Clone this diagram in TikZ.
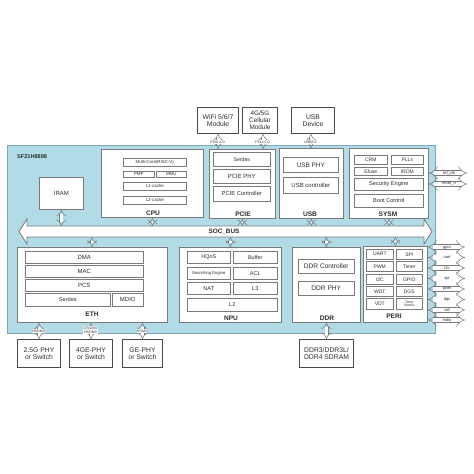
\documentclass[tikz,border=0pt]{standalone}
\usepackage{fontspec}
\setmainfont{Liberation Sans}
\usetikzlibrary{arrows.meta}
\definecolor{chipfill}{HTML}{B0DBE7}
\definecolor{chipdraw}{HTML}{7FA7B5}
\definecolor{boxdraw}{HTML}{7A7A7A}
\definecolor{extdraw}{HTML}{4A4A4A}
\definecolor{txt}{HTML}{2E2E2E}
\newcommand\fsz[2]{\fontsize{#1}{#2}\selectfont}
\newcommand\B[7][]{\node[#1, anchor=north west, minimum width={(#5-#3)*1pt}, minimum height={(#6-#4)*1pt}] (#2) at (#3,#4) {#7};}
\tikzset{
  chip/.style={draw=chipdraw, fill=chipfill, line width=1pt, inner sep=0},
  blk/.style={draw=boxdraw, fill=white, line width=0.8pt, inner sep=0, font=\fsz{6}{7}},
  ibx/.style={draw=boxdraw, fill=white, line width=0.6pt, inner sep=0, align=center, font=\fsz{5}{6}},
  ext/.style={draw=extdraw, fill=white, line width=1pt, inner sep=0, align=center, font=\fsz{6.8}{7.6}},
  lbl/.style={font=\bfseries\fsz{6.6}{7}, inner sep=0},
  conn/.style={draw=boxdraw, line width=0.5pt, double=white, double distance=3pt,
    {Implies[length=2.2pt, width=7pt]}-{Implies[length=2.2pt, width=7pt]}},
  sig/.style={draw=boxdraw, line width=0.5pt, double=white, double distance=4.4pt,
    {Implies[length=2.4pt, width=8pt]}-{Implies[length=2.4pt, width=8pt]}},
  clbl/.style={font=\fsz{3.6}{4}, fill=white, inner sep=0.3pt},
  slbl/.style={font=\fsz{4.2}{5}, inner sep=0}
}
\begin{document}
\begin{tikzpicture}[x=1pt,y=-1pt, text=txt]
\useasboundingbox (0,0) rectangle (474,474);
\fill[white] (0,0) rectangle (474,474);

% chip
\B[chip]{chip}{7}{145}{435}{333}{}
\node[font=\bfseries\fsz{5.6}{6}, inner sep=0, anchor=west] (chipname) at (17,157) {SF21H8898};

% external top
\B[ext]{wifi}{197}{107}{238}{133}{WiFi 5/6/7\\Module}
\B[ext, font=\fsz{6.4}{7}]{cell}{242}{107}{277}{133}{4G/5G\\Cellular\\Module}
\B[ext]{usbdev}{291}{107}{334}{133}{USB\\Device}

% IRAM
\B[blk]{iram}{39}{177}{83}{209}{IRAM}

% CPU
\B[blk]{cpu}{101}{149}{203}{217}{}
\B[ibx, font=\fsz{4.4}{5}]{mc}{123}{158}{186}{166}{Multi-Core(RISC-V)}
\B[ibx, font=\fsz{4.4}{5}]{pmp}{123}{171}{154}{177}{PMP}
\B[ibx, font=\fsz{4.4}{5}]{mmu}{156}{171}{186}{177}{MMU}
\B[ibx, font=\fsz{4.4}{5}]{lone}{123}{182}{186}{190}{L1-cache}
\B[ibx, font=\fsz{4.4}{5}]{ltwo}{123}{196}{186}{204}{L2-cache}
\node[lbl] (cpulbl) at (153,213) {CPU};

% PCIE
\B[blk]{pcie}{209}{149}{275}{218}{}
\B[ibx, font=\fsz{5.2}{6}]{serdesa}{213}{152}{270}{166}{Serdes}
\B[ibx, font=\fsz{6}{7}]{pciephy}{213}{169}{270}{183}{PCIE PHY}
\B[ibx, font=\fsz{5.8}{7}]{pciectl}{213}{186}{270}{201}{PCIE Controller}
\node[lbl] (pcielbl) at (243,214) {PCIE};

% USB
\B[blk]{usb}{279}{148}{343}{218}{}
\B[ibx, font=\fsz{6.4}{7}]{usbphy}{283}{157}{338}{172}{USB PHY}
\B[ibx, font=\fsz{6}{7}]{usbctl}{283}{177}{338}{193}{USB controller}
\node[lbl] (usblbl) at (310,214) {USB};

% SYSM
\B[blk]{sysm}{349}{148}{428}{218}{}
\B[ibx]{crm}{354}{155}{387}{164}{CRM}
\B[ibx]{plls}{391}{155}{423}{164}{PLLs}
\B[ibx]{efuse}{354}{167}{387}{175}{Efuse}
\B[ibx]{irom}{391}{167}{423}{175}{IROM}
\B[ibx, font=\fsz{5.6}{6}]{sec}{354}{178}{423}{190}{Security Engine}
\B[ibx, font=\fsz{5.6}{6}]{boot}{354}{194}{423}{207}{Boot Control}
\node[lbl] (sysmlbl) at (388,214) {SYSM};

% SOC bus
\draw[draw=boxdraw, fill=white, line width=0.8pt]
  (19,231.5) -- (27,219) -- (27,226) -- (424,226) -- (424,219) -- (432,231.5)
  -- (424,244) -- (424,237) -- (27,237) -- (27,244) -- cycle;
\coordinate (bustop) at (0,226);
\coordinate (busbot) at (0,237);
\node[lbl, font=\bfseries\fsz{6.4}{7}] (buslbl) at (224,232) {SOC\_BUS};

% ETH
\B[blk]{eth}{17}{247}{167}{322}{}
\B[ibx, font=\fsz{6}{7}]{dma}{25}{251}{143}{263}{DMA}
\B[ibx, font=\fsz{6}{7}]{mac}{25}{265}{143}{277}{MAC}
\B[ibx, font=\fsz{6}{7}]{pcs}{25}{279}{143}{291}{PCS}
\B[ibx, font=\fsz{5.6}{7}]{serdesb}{25}{293}{110}{306}{Serdes}
\B[ibx, font=\fsz{6}{7}]{mdio}{112}{293}{143}{306}{MDIO}
\node[lbl] (ethlbl) at (92,314) {ETH};

% NPU
\B[blk]{npu}{179}{247}{281}{322}{}
\B[ibx, font=\fsz{5.4}{6}]{hqos}{187}{251}{230}{263}{HQoS}
\B[ibx, font=\fsz{5.4}{6}]{buffer}{233}{251}{277}{263}{Buffer}
\B[ibx, font=\fsz{4.2}{5}]{search}{187}{267}{230}{279}{Searching Engine}
\B[ibx, font=\fsz{5.6}{6}]{acl}{233}{267}{277}{279}{ACL}
\B[ibx, font=\fsz{5.6}{6}]{nat}{187}{282}{230}{294}{NAT}
\B[ibx, font=\fsz{5.6}{6}]{lthree}{233}{282}{277}{294}{L3}
\B[ibx, font=\fsz{5.6}{6}]{ltwob}{187}{298}{277}{311}{L2}
\node[lbl] (npulbl) at (231,318) {NPU};

% DDR
\B[blk]{ddr}{292}{247}{360}{322}{}
\B[ibx, font=\fsz{6.6}{7}]{ddrc}{298}{259}{354}{273}{DDR Controller}
\B[ibx, font=\fsz{6.6}{7}]{ddrphy}{298}{281}{354}{295}{DDR PHY}
\node[lbl] (ddrlbl) at (327,318) {DDR};

% PERI
\B[blk]{peri}{363}{246}{427}{322}{}
\B[ibx]{uart}{366}{249}{393}{259}{UART}
\B[ibx]{spi}{396}{249}{422}{259}{SPI}
\B[ibx]{pwm}{366}{261}{393}{271}{PWM}
\B[ibx]{timer}{396}{261}{422}{271}{Timer}
\B[ibx]{itwoc}{366}{274}{393}{284}{I2C}
\B[ibx]{gpiob}{396}{274}{422}{284}{GPIO}
\B[ibx]{wdt}{366}{286}{393}{296}{WDT}
\B[ibx]{dgs}{396}{286}{422}{296}{DGS}
\B[ibx]{vdt}{366}{298}{393}{309}{VDT}
\B[ibx, font=\fsz{3.4}{3.8}]{temp}{396}{298}{422}{309}{Temp\\Sensor}
\node[lbl] (perilbl) at (394,316) {PERI};

% external bottom
\B[ext]{phyA}{17}{339}{60}{367}{2.5G PHY\\or Switch}
\B[ext]{phyB}{69}{339}{112}{367}{4GE-PHY\\or Switch}
\B[ext]{phyC}{122}{339}{162}{367}{GE-PHY\\or Switch}
\B[ext]{sdram}{299}{339}{353}{367}{DDR3/DDR3L/\\DDR4 SDRAM}

% connectors: top externals
\draw[conn] (wifi.south) -- (wifi.south |- pcie.north);
\draw[conn] ([xshift=3pt]cell.south) -- ([xshift=3pt]cell.south |- pcie.north);
\draw[conn] ([xshift=-2pt]usbdev.south) -- ([xshift=-2pt]usbdev.south |- usb.north);
\node[clbl] (lwifi) at (217.5,142) {PCIe 2.0};
\node[clbl] (lcell) at (262.5,142) {PCIe 2.0};
\node[clbl] (lusb) at (310.5,142) {USB2.0};

% connectors to bus
\draw[conn] (iram.south) -- (iram.south |- bustop);
\draw[conn] (cpu.south) -- (cpu.south |- bustop);
\draw[conn] (pcie.south) -- (pcie.south |- bustop);
\draw[conn] (usb.south) -- (usb.south |- bustop);
\draw[conn] (sysm.south) -- (sysm.south |- bustop);
\draw[conn] (eth.north -| ethlbl) -- (ethlbl |- busbot);
\draw[conn] (npu.north) -- (npu.north |- busbot);
\draw[conn] (ddr.north) -- (ddr.north |- busbot);
\draw[conn] (peri.north) -- (peri.north |- busbot);

% connectors bottom
\draw[conn] (eth.south -| phyA.north) -- (phyA.north);
\draw[conn] (eth.south -| phyB.north) -- (phyB.north);
\draw[conn] (eth.south -| phyC.north) -- (phyC.north);
\draw[conn] (ddr.south -| sdram.north) -- (sdram.north);
\node[clbl] (lphyA) at (38.5,331) {HSGMII};
\node[clbl, align=center, font=\fsz{3.6}{4.4}] (lphyB) at (90.5,330) {QSGMII/\\HSGMII};
\node[clbl] (lphyC) at (142,331) {SGMII};

% SYSM signals
\coordinate (refend) at (467,173);
\coordinate (rstend) at (467,184);
\draw[sig] (sysm.east |- refend) -- (refend);
\draw[sig] (sysm.east |- rstend) -- (rstend);
\node[slbl] (lref) at (449,173) {ref\_clk};
\node[slbl] (lrst) at (449,184) {reset\_n};

% PERI signals
\foreach \nm/\yy in {gpio/247,uart/257.5,i2c/268,spi/278.5,pwm/289,dgs/299.5,vdt/310,mdio/320}{
  \coordinate (e\nm) at (465,\yy);
  \draw[sig] (peri.east |- e\nm) -- (e\nm);
  \node[slbl, font=\fsz{4}{5}] (l\nm) at (447,\yy) {\nm};
}
\end{tikzpicture}
\end{document}
